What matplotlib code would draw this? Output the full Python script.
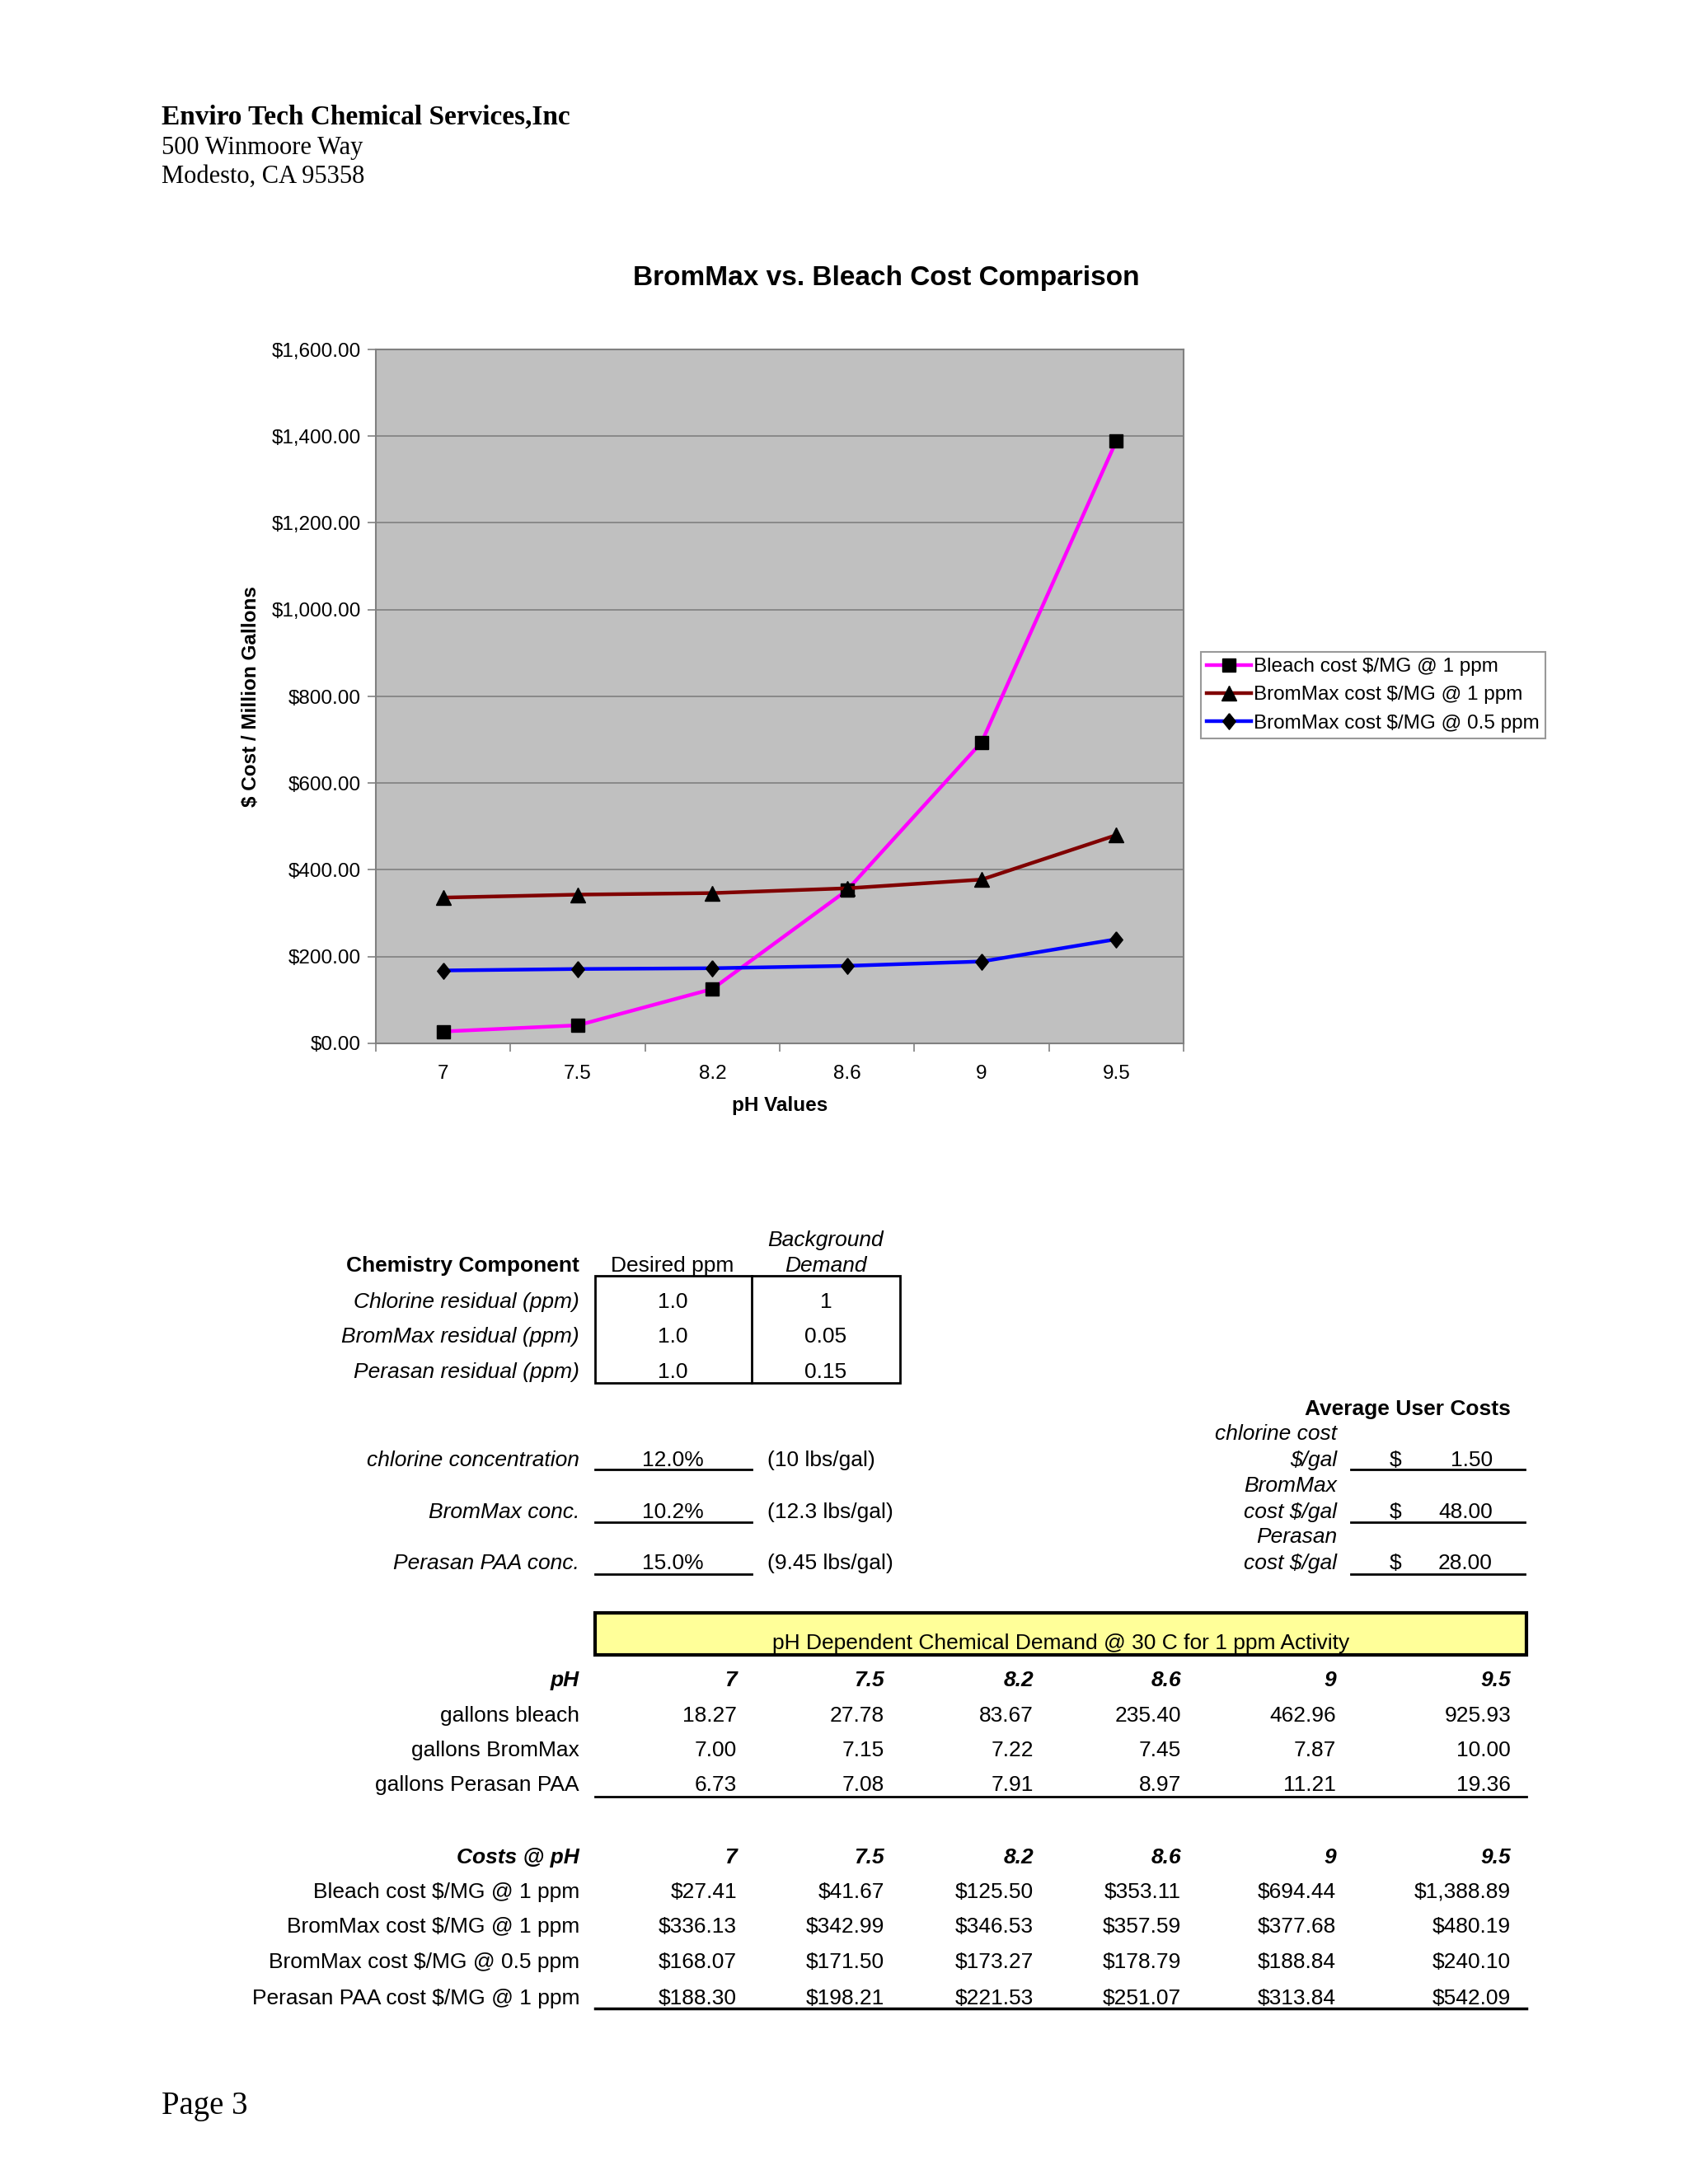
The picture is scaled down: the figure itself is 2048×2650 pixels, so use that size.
import numpy as np
import matplotlib
matplotlib.use('Agg')
import matplotlib.pyplot as plt
from matplotlib.patches import Rectangle
from matplotlib.ticker import FuncFormatter

plt.rcParams['font.family'] = ['Liberation Sans', 'DejaVu Sans']
plt.rcParams['text.parse_math'] = False

#%% data
ph_values = ['7', '7.5', '8.2', '8.6', '9', '9.5']
bleach_cost = [27.41, 41.67, 125.50, 353.11, 694.44, 1388.89]
brommax_cost = [336.13, 342.99, 346.53, 357.59, 377.68, 480.19]
brommax_half_cost = [168.07, 171.50, 173.27, 178.79, 188.84, 240.10]
perasan_cost = [188.30, 198.21, 221.53, 251.07, 313.84, 542.09]

gallons_bleach = [18.27, 27.78, 83.67, 235.40, 462.96, 925.93]
gallons_brommax = [7.00, 7.15, 7.22, 7.45, 7.87, 10.00]
gallons_perasan = [6.73, 7.08, 7.91, 8.97, 11.21, 19.36]

components = ['Chlorine residual (ppm)', 'BromMax residual (ppm)', 'Perasan residual (ppm)']
desired_ppm = [1.0, 1.0, 1.0]
background_demand = ['1', '0.05', '0.15']

conc_labels = ['chlorine concentration', 'BromMax conc.', 'Perasan PAA conc.']
conc_pct = [12.0, 10.2, 15.0]
conc_density = ['(10 lbs/gal)', '(12.3 lbs/gal)', '(9.45 lbs/gal)']

user_cost_labels = [('chlorine cost', '$/gal'), ('BromMax', 'cost $/gal'), ('Perasan', 'cost $/gal')]
user_cost = [1.50, 48.00, 28.00]

#%% page
fig = plt.figure(figsize=(20.48, 26.5), dpi=100)
fig.patch.set_facecolor('white')
page = fig.add_axes([0, 0, 1, 1])
page.set_xlim(0, 2048)
page.set_ylim(2650, 0)
page.axis('off')

def txt(x, y, s, size=19, **kw):
    page.text(x, y, s, fontsize=size, va='baseline', **kw)

serif = ['Liberation Serif', 'DejaVu Serif']
txt(196, 151, 'Enviro Tech Chemical Services,Inc', size=24, family=serif, fontweight='bold')
txt(196, 187, '500 Winmoore Way', size=22, family=serif)
txt(196, 222, 'Modesto, CA 95358', size=22, family=serif)
txt(196, 2565, 'Page 3', size=28, family=serif)

#%% chart
diamond = [(0, 1), (0.8, 0), (0, -1), (-0.8, 0), (0, 1)]
ax = fig.add_axes([456/2048, 1-1266/2650, 980/2048, 842/2650])
x = np.arange(len(ph_values))
ax.set_facecolor('#c0c0c0')
ax.plot(x, bleach_cost, color='#ff00ff', lw=3.2, marker='s', ms=12, mfc='black', mec='black',
        label='Bleach cost $/MG @ 1 ppm', clip_on=False, zorder=3)
ax.plot(x, brommax_cost, color='#800000', lw=3.2, marker='^', ms=13, mfc='black', mec='black',
        label='BromMax cost $/MG @ 1 ppm', clip_on=False, zorder=3)
ax.plot(x, brommax_half_cost, color='#0000ff', lw=3.2, marker=diamond, ms=14, mfc='black', mec='black',
        label='BromMax cost $/MG @ 0.5 ppm', clip_on=False, zorder=3)
ax.set_xlim(-0.5, 5.5)
ax.set_ylim(0, 1600)
ax.set_yticks(np.arange(0, 1601, 200))
ax.yaxis.set_major_formatter(FuncFormatter(lambda v, p: '${:,.2f}'.format(v)))
ax.set_xticks(x)
ax.set_xticklabels(ph_values)
ax.set_xticks(np.arange(-0.5, 6, 1), minor=True)
ax.tick_params(axis='x', which='major', length=0, pad=18.5, labelsize=17.5)
ax.tick_params(axis='x', which='minor', length=7, width=1.2, color='#808080', direction='out')
ax.tick_params(axis='y', length=7, width=1.2, color='#808080', pad=6, labelsize=17.5)
ax.grid(axis='y', color='#808080', lw=1.2)
ax.set_axisbelow(True)
for s in ax.spines.values():
    s.set_color('#808080')
    s.set_linewidth(1.5)
ax.set_ylabel('$ Cost / Million Gallons', fontsize=17.5, fontweight='bold', labelpad=10)
ax.set_xlabel('pH Values', fontsize=17.5, fontweight='bold', labelpad=12)
fig.text(1075/2048, 1-346/2650, 'BromMax vs. Bleach Cost Comparison',
         fontsize=24, fontweight='bold', ha='center', va='baseline')

leg = ax.legend(loc='upper left', bbox_to_anchor=(1457/2048, 1-791/2650), bbox_transform=fig.transFigure,
                fontsize=17.5, frameon=True, fancybox=False, edgecolor='#808080', borderpad=0.3,
                labelspacing=0.5, handlelength=2.2, handletextpad=0.15, borderaxespad=0)
leg.get_frame().set_linewidth(1.5)

#%% table 1
txt(1002, 1512, 'Background', ha='center', style='italic')
txt(703, 1543, 'Chemistry Component', ha='right', fontweight='bold')
txt(816, 1543, 'Desired ppm', ha='center')
txt(1002, 1543, 'Demand', ha='center', style='italic')
page.add_patch(Rectangle((722, 1548), 370, 130, fill=False, ec='black', lw=2))
page.plot([912, 912], [1548, 1678], color='black', lw=2)
rows_y = [1587, 1629, 1672]
for i in range(len(components)):
    txt(703, rows_y[i], components[i], ha='right', style='italic')
    txt(816, rows_y[i], '{:.1f}'.format(desired_ppm[i]), ha='center')
    txt(1002, rows_y[i], background_demand[i], ha='center')

#%% concentrations / user costs
txt(1833, 1717, 'Average User Costs', ha='right', fontweight='bold')
conc_y = [1779, 1842, 1904]
line_y = [1783, 1847, 1910]
for i in range(3):
    txt(703, conc_y[i], conc_labels[i], ha='right', style='italic')
    txt(816, conc_y[i], '{:.1f}%'.format(conc_pct[i]), ha='center')
    page.plot([722, 912], [line_y[i], line_y[i]], color='black', lw=2)
    txt(931, conc_y[i], conc_density[i], ha='left')
    txt(1622, conc_y[i] - 32, user_cost_labels[i][0], ha='right', style='italic')
    txt(1622, conc_y[i], user_cost_labels[i][1], ha='right', style='italic')
    txt(1693, conc_y[i], '$', ha='center')
    txt(1811, conc_y[i], '{:.2f}'.format(user_cost[i]), ha='right')
    page.plot([1639, 1850], [line_y[i], line_y[i]], color='black', lw=2)

#%% gallons table
col_x = [894, 1073, 1254, 1433, 1621, 1833]
page.add_patch(Rectangle((722, 1957), 1130, 51, fc='#ffff99', ec='black', lw=3))
txt(1287, 2001, 'pH Dependent Chemical Demand @ 30 C for 1 ppm Activity', ha='center')
txt(703, 2046, 'pH', ha='right', fontweight='bold', style='italic')
for j in range(len(ph_values)):
    txt(col_x[j], 2046, ph_values[j], ha='right', fontweight='bold', style='italic')

gal_rows = [('gallons bleach', gallons_bleach), ('gallons BromMax', gallons_brommax),
            ('gallons Perasan PAA', gallons_perasan)]
gal_y = [2089, 2131, 2173]
for i, (lab, vals) in enumerate(gal_rows):
    txt(703, gal_y[i], lab, ha='right')
    for j in range(len(vals)):
        txt(col_x[j], gal_y[i], '{:.2f}'.format(vals[j]), ha='right')
page.plot([722, 1852], [2180, 2180], color='black', lw=2)

#%% cost table
txt(703, 2261, 'Costs @ pH', ha='right', fontweight='bold', style='italic')
for j in range(len(ph_values)):
    txt(col_x[j], 2261, ph_values[j], ha='right', fontweight='bold', style='italic')
cost_rows = [('Bleach cost $/MG @ 1 ppm', bleach_cost), ('BromMax cost $/MG @ 1 ppm', brommax_cost),
             ('BromMax cost $/MG @ 0.5 ppm', brommax_half_cost), ('Perasan PAA cost $/MG @ 1 ppm', perasan_cost)]
cost_y = [2303, 2345, 2388, 2432]
for i, (lab, vals) in enumerate(cost_rows):
    txt(703, cost_y[i], lab, ha='right')
    for j in range(len(vals)):
        txt(col_x[j], cost_y[i], '${:,.2f}'.format(vals[j]), ha='right')
page.plot([722, 1852], [2437, 2437], color='black', lw=2.5)

fig.savefig('out.png', dpi=100)
